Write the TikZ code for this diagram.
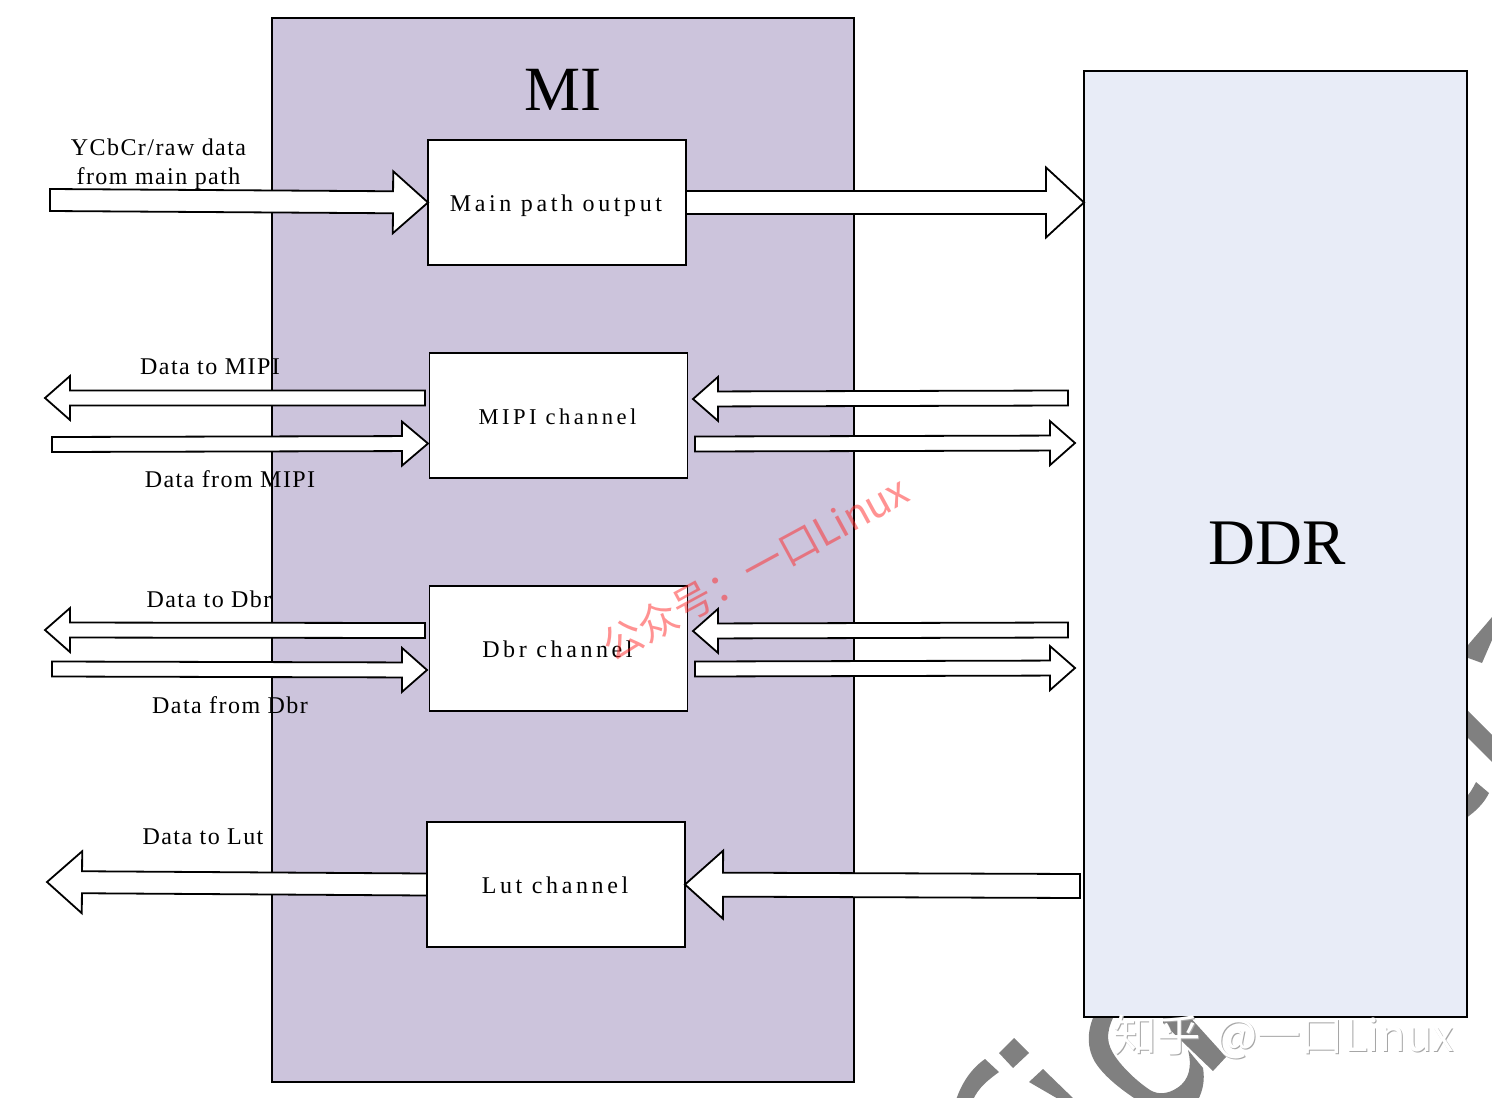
\documentclass[tikz,border=0pt]{standalone}
\usepackage{fontspec}
\setmainfont{Liberation Serif}
\newfontfamily\spacedfont[LetterSpace=6]{Liberation Serif}
\newfontfamily\boxfont[LetterSpace=15]{Liberation Serif}
\newfontfamily\cjkfont{Noto Sans CJK SC}
\usetikzlibrary{calc}
\definecolor{mifill}{HTML}{CCC4DC}
\definecolor{ddrfill}{HTML}{E8ECF7}
\definecolor{markgray}{HTML}{808080}
\tikzset{
  blockbox/.style={draw=black,line width=0.9pt,fill=white,minimum width=129pt,minimum height=62.5pt,inner sep=0pt,outer sep=0pt,font=\boxfont\fontsize{12}{13}\selectfont},
  region/.style={draw=black,line width=0.9pt,inner sep=0pt,outer sep=0pt},
  title/.style={font=\fontsize{31.5}{33}\selectfont,inner sep=0pt},
  sig/.style={font=\spacedfont\fontsize{12}{14.5}\selectfont,inner sep=0pt,align=center},
  fat/.style={draw=black,line width=0.9pt,fill=white,line join=miter},
  gfill/.style={fill=markgray,draw=none}
}
\newcommand{\blocktext}[1]{\raisebox{-4.5pt}[0pt][0pt]{#1\kern1pt}}
\newcommand{\fatarrow}[5]{%
  \path ($#2!#5*0.5pt!#1$) coordinate (fatbase);
  \draw[fat] ($#1!#3*0.5pt!90:#2$) -- ($(fatbase)!#3*0.5pt!90:#2$) -- ($(fatbase)!#4*0.5pt!90:#2$) -- #2
    -- ($(fatbase)!#4*0.5pt!-90:#2$) -- ($(fatbase)!#3*0.5pt!-90:#2$) -- ($#1!#3*0.5pt!-90:#2$) -- cycle;
}
\begin{document}
\begin{tikzpicture}[x=0.5pt,y=-0.5pt]
\useasboundingbox (0,0) rectangle (1492,1097);
\fill[white] (0,0) rectangle (1492,1097);
\begin{scope}
\clip (0,0) rectangle (1492,1097);
% grey background marks
\fill[gfill] (1460,655) .. controls (1470,642) and (1483,628) .. (1492,617) -- (1492,640) -- (1482,663) -- cycle;
\fill[gfill] (1460,703) -- (1492,735) -- (1492,762) -- (1460,730) -- cycle;
\fill[gfill] (1476,782) -- (1489,793) .. controls (1484,803) and (1476,812) .. (1460,822) -- (1460,803) .. controls (1467,798) and (1472,790) .. (1476,782) -- cycle;
\fill[gfill] (1014,1038) -- (1029,1053) -- (1013,1068) -- (999,1053) -- cycle;
\fill[gfill] (985,1059) -- (999,1072) .. controls (988,1080) and (978,1088) .. (973,1100) -- (956,1100) .. controls (962,1082) and (972,1068) .. (985,1059) -- cycle;
\fill[gfill] (1043,1069) -- (1029,1082) -- (1060,1100) -- (1075,1100) -- cycle;
\fill[gfill] (1097,1010) .. controls (1088,1025) and (1085,1045) .. (1095,1062) .. controls (1105,1078) and (1125,1092) .. (1137,1100) -- (1198,1100) .. controls (1203,1090) and (1205,1080) .. (1203,1068) -- (1188,1050) .. controls (1192,1065) and (1190,1080) .. (1177,1088) .. controls (1168,1094) and (1158,1095) .. (1150,1090) .. controls (1135,1080) and (1120,1065) .. (1113,1053) .. controls (1105,1040) and (1107,1028) .. (1117,1010) -- cycle;
\fill[gfill] (1188,1015) -- (1226,1057) -- (1213,1071) -- (1163,1023) -- (1163,1015) -- cycle;
\end{scope}
% regions
\node[region,fill=mifill,minimum width=291pt,minimum height=532pt] (mi) at (563,550) {};
\node[region,fill=ddrfill,minimum width=191.5pt,minimum height=473pt] (ddr) at (1275.5,544) {};
\node[title] (mititle) at (563,90) {MI};
\node[title,font=\fontsize{32.5}{34}\selectfont] (ddrtitle) at (1277,543) {DDR};
% blocks
\node[blockbox] (main) at (557,202.5) {\blocktext{Main path output}};
\node[blockbox,font=\boxfont\fontsize{11.3}{13}\selectfont] (mipi) at (558.5,415.5) {\blocktext{MIPI channel}};
\node[blockbox] (dbr) at (558.5,648.5) {\blocktext{Dbr channel}};
\node[blockbox] (lut) at (556,884.5) {\blocktext{Lut channel}};
% free ends
\coordinate (inmain) at (50,200);
\coordinate (mipiLt) at (425,398);
\coordinate (mipiLe) at (45,398);
\coordinate (mipiIt) at (52,444.5);
\coordinate (mipiIe) at (428,443.5);
\coordinate (mipiRt) at (1068,398);
\coordinate (mipiRe) at (693,399);
\coordinate (mipiOt) at (695,444);
\coordinate (mipiOe) at (1075,443);
\coordinate (dbrLt) at (425,630.5);
\coordinate (dbrLe) at (45,630);
\coordinate (dbrIt) at (52,669);
\coordinate (dbrIe) at (427,670);
\coordinate (dbrRt) at (1068,630);
\coordinate (dbrRe) at (693,631);
\coordinate (dbrOt) at (695,669);
\coordinate (dbrOe) at (1075,668);
\coordinate (lutLe) at (47,882);
\coordinate (lutRt) at (1080,886);
\coordinate (mainOe) at (ddr.west |- main.east);
% arrows
\fatarrow{(inmain)}{(main.west)}{11}{31}{35}
\fatarrow{(main.east)}{(mainOe)}{11.5}{35}{38}
\fatarrow{(mipiLt)}{(mipiLe)}{7.5}{22}{25}
\fatarrow{(mipiIt)}{(mipiIe)}{7.5}{22}{26}
\fatarrow{(mipiRt)}{(mipiRe)}{7.5}{22}{25}
\fatarrow{(mipiOt)}{(mipiOe)}{7.5}{22}{25}
\fatarrow{(dbrLt)}{(dbrLe)}{7.5}{22}{25}
\fatarrow{(dbrIt)}{(dbrIe)}{7.5}{22}{25}
\fatarrow{(dbrRt)}{(dbrRe)}{7.5}{22}{25}
\fatarrow{(dbrOt)}{(dbrOe)}{7.5}{22}{25}
\fatarrow{(lut.west)}{(lutLe)}{11}{31}{35}
\fatarrow{(lutRt)}{(lut.east)}{12}{34}{38}
% labels
\node[sig] (l1) at (158.5,164) {YCbCr/raw data\\from main path};
\node[sig] (l2) at (210,366.5) {Data to MIPI};
\node[sig] (l3) at (230,479.5) {Data from MIPI};
\node[sig] (l4) at (209,599.5) {Data to Dbr};
\node[sig] (l5) at (230,705.5) {Data from Dbr};
\node[sig] (l6) at (203,836.5) {Data to Lut};
% watermarks
\node[rotate=28.5,text=red!85!white,opacity=0.5,inner sep=0pt,font=\cjkfont\fontsize{20}{24}\selectfont] (wm1) at (755,568) {公众号：一口Linux};
\node[text=markgray!70!white,inner sep=0pt,font=\cjkfont\fontsize{21.7}{24}\selectfont] (wm2s) at (1285,1038) {知乎\hspace{3pt} @一口Linux};
\node[text=white,inner sep=0pt,font=\cjkfont\fontsize{21.7}{24}\selectfont] (wm2) at (1284,1037) {知乎\hspace{3pt} @一口Linux};
\end{tikzpicture}
\end{document}
